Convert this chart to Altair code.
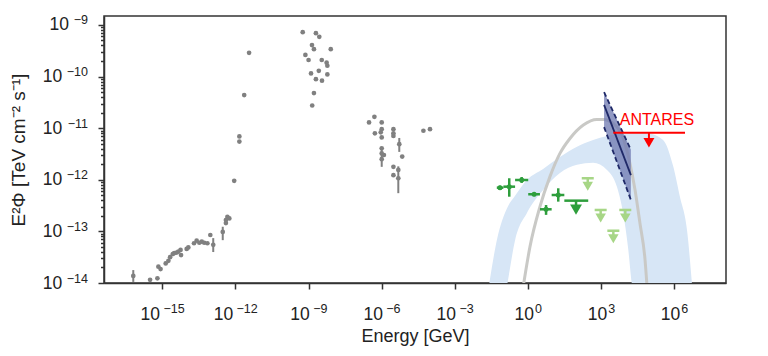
import altair as alt
import pandas as pd

# ---------------- data ----------------
# synchrotron-like grey data points
sync_E = [6.46e-17, 3.16e-16, 6.31e-16, 6.92e-16, 8.51e-16, 1.38e-15, 1.78e-15, 2.09e-15,
          2.69e-15, 3.09e-15, 3.89e-15, 4.57e-15, 5.62e-15, 5.89e-15, 1.17e-14, 1.0e-14,
          2.0e-14, 2.57e-14, 3.31e-14, 4.17e-14, 5.25e-14, 7.08e-14, 9.33e-14, 1.23e-13,
          3.02e-13, 4.07e-13, 4.68e-13, 5.62e-13, 4.07e-13, 8.91e-13, 1.45e-12, 1.45e-12,
          2.29e-12, 3.63e-12,
          5.75e-10, 2.0e-9, 2.75e-9, 1.38e-9, 1.66e-9, 8.13e-9, 7.41e-10, 1.0e-9,
          3.47e-9, 5.50e-9, 5.89e-9, 1.26e-9, 2.63e-9, 5.89e-9, 2.0e-9, 3.55e-9,
          1.66e-9, 1.41e-9,
          3.02e-7, 5.01e-7, 1.0e-6, 5.25e-7, 9.12e-7, 1.0e-6, 1.0e-6, 3.02e-6,
          3.02e-6, 3.02e-6, 5.25e-6, 6.92e-6, 1.0e-6, 1.0e-6, 1.23e-6, 1.0e-6,
          3.02e-6, 4.79e-6, 3.02e-6, 4.79e-6, 5.13e-5, 9.55e-5]
sync_F = [1.37e-14, 1.15e-14, 1.23e-14, 2.07e-14, 1.86e-14, 2.40e-14, 2.69e-14, 3.16e-14,
          3.63e-14, 3.80e-14, 3.89e-14, 4.07e-14, 4.37e-14, 3.47e-14, 4.90e-14, 4.57e-14,
          5.89e-14, 6.61e-14, 6.03e-14, 6.31e-14, 6.03e-14, 5.89e-14, 8.51e-14, 5.50e-14,
          9.77e-14, 1.66e-13, 1.91e-13, 1.78e-13, 1.45e-13, 9.55e-13, 6.92e-12, 5.50e-12,
          4.37e-11, 2.88e-10,
          7.24e-10, 6.92e-10, 5.89e-10, 4.07e-10, 3.39e-10, 3.39e-10, 2.63e-10, 2.09e-10,
          2.09e-10, 1.86e-10, 1.62e-10, 1.15e-10, 1.29e-10, 1.10e-10, 8.91e-11, 8.32e-11,
          4.79e-11, 2.75e-11,
          1.29e-11, 1.66e-11, 1.29e-11, 7.94e-12, 8.32e-12, 6.61e-12, 9.55e-12, 9.55e-12,
          7.94e-12, 7.08e-12, 4.90e-12, 2.82e-12, 4.07e-12, 3.24e-12, 3.02e-12, 2.51e-12,
          1.78e-12, 1.55e-12, 1.23e-12, 1.07e-12, 8.91e-12, 9.55e-12]
sync_err_E = [6.46e-17, 1.23e-13, 3.02e-13, 5.25e-6, 1.0e-6, 4.79e-6]
sync_err_lo = [1.05e-14, 3.98e-14, 6.76e-14, 3.47e-12, 1.78e-12, 5.50e-13]
sync_err_hi = [1.78e-14, 7.41e-14, 1.23e-13, 6.46e-12, 3.80e-12, 1.82e-12]

# dark green gamma-ray points
g_E = [7.08e-2, 0.170, 0.55, 1.78, 5.5, 17.4]
g_Elo = [5.25e-2, 9.77e-2, 0.295, 1.02, 3.09, 9.33]
g_Ehi = [9.77e-2, 0.295, 1.02, 3.09, 9.33, 30.9]
g_F = [7.03e-13, 7.35e-13, 9.9e-13, 5.24e-13, 2.68e-13, 5.07e-13]
g_Flo = [6.4e-13, 4.70e-13, 8.7e-13, 4.8e-13, 2.09e-13, 3.77e-13]
g_Fhi = [7.7e-13, 1.07e-12, 1.13e-12, 5.7e-13, 3.24e-13, 6.84e-13]
# dark green upper limit
gul_E = [93.3]
gul_Elo = [30.9]
gul_Ehi = [295.0]
gul_F = [3.94e-13]
# light green upper limits
lul_E = [282.0, 955.0, 3162.0, 9772.0]
lul_F = [1.07e-12, 2.60e-13, 1.03e-13, 2.60e-13]

# light blue band
band_E = [0.0251, 0.0537, 0.138, 0.295, 0.912, 4.17, 20.4, 102.0, 468.0, 1738.0,
          4467.0, 7943.0, 12589.0, 18621.0, 75858.0, 346737.0, 891251.0, 1.70e6, 3.31e6, 5.37e6]
band_hi = [8.91e-15, 7.08e-14, 2.82e-13, 4.90e-13, 1.0e-12, 1.62e-12, 2.75e-12, 4.37e-12, 5.89e-12, 7.08e-12,
           7.59e-12, 7.94e-12, 7.94e-12, 7.94e-12, 7.94e-12, 5.89e-12, 1.86e-12, 4.68e-13, 1.07e-13, 8.91e-15]
band_lo = [1e-15, 1e-15, 8.91e-15, 6.76e-14, 2.29e-13, 6.31e-13, 1.35e-12, 1.95e-12, 2.14e-12, 1.55e-12,
           7.24e-13, 2.29e-13, 5.01e-14, 8.91e-15, 1e-15, 1e-15, 1e-15, 1e-15, 1e-15, 1e-15]

# grey model curve
curve_E = [0.646, 1.20, 3.09, 7.94, 20.4, 52.5, 186.0, 661.0, 1230.0, 3162.0,
           8128.0, 15136.0, 24547.0, 38905.0, 63096.0, 75858.0]
curve_F = [8.91e-15, 5.01e-14, 3.02e-13, 1.15e-12, 3.24e-12, 6.31e-12, 1.15e-11, 1.48e-11, 1.48e-11, 1.23e-11,
           6.31e-12, 2.09e-12, 6.31e-13, 1.45e-13, 2.82e-14, 8.91e-15]

# navy butterfly
bf_E = [1318.0, 16596.0]
bf_hi = [5.01e-11, 3.80e-12]
bf_lo = [1.05e-11, 4.07e-13]
bf_mid = [2.82e-11, 1.23e-12]

# ANTARES upper limit
ant_Elo = [3162.0]
ant_Ehi = [2.75e6]
ant_E = [91201.0]
ant_F = [8.18e-12]
ant_label = ["ANTARES"]
ant_label_E = [1.95e5]
ant_label_F = [1.15e-11]

# axis ticks
x_tick_vals = [1e-15, 1e-12, 1e-9, 1e-6, 1e-3, 1e0, 1e3, 1e6]
x_tick_exps = [-15, -12, -9, -6, -3, 0, 3, 6]
y_major = [1e-14, 1e-13, 1e-12, 1e-11, 1e-10, 1e-9]
y_major_exps = [-14, -13, -12, -11, -10, -9]
y_minor = [m * 10.0 ** k for k in range(-14, -9) for m in range(2, 10)]


# ---------------- helpers ----------------
def exp_text(e):
    return str(e).replace("-", "\u2212")


def exp_label_expr(exps):
    expr = "''"
    for e in exps:
        expr = f"(round(log(datum.value)/LN10)=={e}) ? '{exp_text(e)}' : ({expr})"
    return expr


FONT = "Liberation Sans"
BASE_FS = 17.5
EXP_FS = 12.5

x_scale = alt.Scale(type="log", domain=[4.07e-18, 1.32e8], nice=False)
y_scale = alt.Scale(type="log", domain=[1e-14, 1.49e-9], nice=False)

# main axes: "10" part, ticks, domain, titles
x_axis = alt.Axis(values=x_tick_vals, labelExpr="'10'", title="Energy [GeV]",
                  orient="bottom", tickSize=6, labelPadding=25, labelBaseline="middle",
                  labelAlign="right", labelFontSize=BASE_FS,
                  labelOffset={"condition": [{"test": "datum.value < 1e-10", "value": -2.8},
                                             {"test": "datum.value < 0.5", "value": 0.7}],
                               "value": 5.5},
                  titleY=53, titleBaseline="middle", titleFontSize=18,
                  grid=False, labelFlush=False, labelOverlap=False)
y_axis = alt.Axis(values=y_major, labelExpr="'10'", orient="left",
                  tickSize=6, labelAlign="right", labelBaseline="middle", labelFontSize=BASE_FS,
                  labelPadding={"condition": {"test": "datum.value > 5e-10", "value": 29.5}, "value": 36.3},
                  title="E\u00b2\u03a6 [TeV cm\u207b\u00b2 s\u207b\u00b9]", titleFontSize=19,
                  titleX=-86, titleY=133.5, titleAngle=-90, titleAlign="center",
                  titleBaseline="middle", grid=False, labelFlush=False, labelOverlap=False)

# exponent axes (superscripts)
x_exp_axis = alt.Axis(values=x_tick_vals, labelExpr=exp_label_expr(x_tick_exps), title="",
                      orient="bottom", domain=False, tickSize=6, tickOpacity=0, labelPadding=19.5,
                      labelBaseline="middle", labelAlign="left", labelFontSize=EXP_FS,
                      labelOffset={"condition": [{"test": "datum.value < 1e-10", "value": 0.6},
                                                 {"test": "datum.value < 0.5", "value": 4.1}],
                                   "value": 6.5},
                      grid=False, labelFlush=False, labelOverlap=False)
y_exp_axis = alt.Axis(values=y_major, labelExpr=exp_label_expr(y_major_exps), title="",
                      orient="left", domain=False, tickSize=6, tickOpacity=0, labelPadding=10.5,
                      labelAlign="right", labelBaseline="middle", labelFontSize=EXP_FS, labelOffset=-5,
                      grid=False, labelFlush=False, labelOverlap=False)
# minor ticks on the y axis
y_minor_axis = alt.Axis(values=y_minor, labels=False, title="", orient="left", domain=False,
                        tickSize=3.5, grid=False)


def X(field):
    return alt.X(f"{field}:Q", scale=x_scale, axis=x_axis)


def Y(field):
    return alt.Y(f"{field}:Q", scale=y_scale, axis=y_axis)


# ---------------- tables ----------------
band_df = pd.DataFrame({"E": band_E, "hi": band_hi, "lo": band_lo})
curve_df = pd.DataFrame({"E": curve_E, "F": curve_F})
bf_df = pd.DataFrame({"E": bf_E, "hi": bf_hi, "lo": bf_lo, "mid": bf_mid})
sync_df = pd.DataFrame({"E": sync_E, "F": sync_F})
sync_err_df = pd.DataFrame({"E": sync_err_E, "lo": sync_err_lo, "hi": sync_err_hi})
g_df = pd.DataFrame({"E": g_E, "Elo": g_Elo, "Ehi": g_Ehi, "F": g_F, "Flo": g_Flo, "Fhi": g_Fhi})
gul_df = pd.DataFrame({"E": gul_E, "Elo": gul_Elo, "Ehi": gul_Ehi, "F": gul_F})
lul_df = pd.DataFrame({"E": lul_E, "F": lul_F})
ant_df = pd.DataFrame({"E": ant_E, "Elo": ant_Elo, "Ehi": ant_Ehi, "F": ant_F})
ant_txt_df = pd.DataFrame({"E": ant_label_E, "F": ant_label_F, "t": ant_label})
axis_df = pd.DataFrame({"E": [x_tick_vals[5]], "F": [y_major[2]]})

BLUE = "#d7e6f6"
GREY = "#808080"
CURVE = "#c9c9c6"
NAVY = "#1f2968"
DG = "#2e9e3c"
LG = "#a7d686"
RED = "#ff0000"

band = alt.Chart(band_df).mark_area(color=BLUE, clip=True, interpolate="monotone").encode(
    x=X("E"), y=Y("hi"), y2="lo")
curve = alt.Chart(curve_df).mark_line(color=CURVE, strokeWidth=3, clip=True, interpolate="monotone").encode(
    x=X("E"), y=Y("F"))
bf_area = alt.Chart(bf_df).mark_area(color="#6d78b0", opacity=0.75, clip=True).encode(
    x=X("E"), y=Y("hi"), y2="lo")
bf_hi_line = alt.Chart(bf_df).mark_line(color=NAVY, strokeWidth=1.8, strokeDash=[5, 3]).encode(
    x=X("E"), y=Y("hi"))
bf_lo_line = alt.Chart(bf_df).mark_line(color=NAVY, strokeWidth=1.8, strokeDash=[5, 3]).encode(
    x=X("E"), y=Y("lo"))
bf_mid_line = alt.Chart(bf_df).mark_line(color=NAVY, strokeWidth=1.8).encode(
    x=X("E"), y=Y("mid"))

sync_err = alt.Chart(sync_err_df).mark_rule(color=GREY, strokeWidth=2).encode(
    x=X("E"), y=Y("lo"), y2="hi")
sync = alt.Chart(sync_df).mark_circle(color=GREY, size=22, opacity=1).encode(x=X("E"), y=Y("F"))

g_h = alt.Chart(g_df).mark_rule(color=DG, strokeWidth=2.5).encode(x=X("Elo"), x2="Ehi", y=Y("F"))
g_v = alt.Chart(g_df).mark_rule(color=DG, strokeWidth=2.5).encode(x=X("E"), y=Y("Flo"), y2="Fhi")
g_pt = alt.Chart(g_df).mark_circle(color=DG, size=25, opacity=1).encode(x=X("E"), y=Y("F"))

gul_h = alt.Chart(gul_df).mark_rule(color=DG, strokeWidth=2.5).encode(x=X("Elo"), x2="Ehi", y=Y("F"))
gul_s = alt.Chart(gul_df).mark_rule(color=DG, strokeWidth=2.5, y2Offset=9).encode(x=X("E"), y=Y("F"), y2="F")
gul_t = alt.Chart(gul_df).mark_point(shape="triangle-down", filled=True, color=DG, opacity=1,
                                     size=140, yOffset=9).encode(x=X("E"), y=Y("F"))

lul_h = alt.Chart(lul_df).mark_rule(color=LG, strokeWidth=2.5, xOffset=-6, x2Offset=6).encode(
    x=X("E"), x2="E", y=Y("F"))
lul_s = alt.Chart(lul_df).mark_rule(color=LG, strokeWidth=2.5, y2Offset=6).encode(x=X("E"), y=Y("F"), y2="F")
lul_t = alt.Chart(lul_df).mark_point(shape="triangle-down", filled=True, color=LG, opacity=1,
                                     size=110, yOffset=8).encode(x=X("E"), y=Y("F"))

ant_h = alt.Chart(ant_df).mark_rule(color=RED, strokeWidth=2).encode(x=X("Elo"), x2="Ehi", y=Y("F"))
ant_s = alt.Chart(ant_df).mark_rule(color=RED, strokeWidth=2, y2Offset=8).encode(x=X("E"), y=Y("F"), y2="F")
ant_t = alt.Chart(ant_df).mark_point(shape="triangle-down", filled=True, color=RED, opacity=1,
                                     size=120, yOffset=10).encode(x=X("E"), y=Y("F"))
ant_txt = alt.Chart(ant_txt_df).mark_text(color=RED, font=FONT, fontSize=16, align="center",
                                          baseline="alphabetic").encode(x=X("E"), y=Y("F"), text="t:N")

data_layer = alt.layer(
    band, curve, bf_area, bf_hi_line, bf_lo_line, bf_mid_line,
    sync_err, sync, g_h, g_v, g_pt, gul_h, gul_s, gul_t, lul_h, lul_s, lul_t,
    ant_h, ant_s, ant_t, ant_txt
)

exp_layer = alt.Chart(axis_df).mark_point(opacity=0).encode(
    x=alt.X("E:Q", scale=x_scale, axis=x_exp_axis),
    y=alt.Y("F:Q", scale=y_scale, axis=y_exp_axis))
minor_layer = alt.Chart(axis_df).mark_point(opacity=0).encode(
    x=alt.X("E:Q", scale=x_scale, axis=None),
    y=alt.Y("F:Q", scale=y_scale, axis=y_minor_axis))

chart = alt.layer(data_layer, exp_layer, minor_layer).resolve_axis(
    x="independent", y="independent"
).properties(
    width=622, height=267,
    autosize=alt.AutoSizeParams(type="none"),
    padding={"left": 104, "top": 16, "right": 42, "bottom": 73},
    background="white",
).configure_view(
    stroke="#333333", strokeWidth=1.5
).configure_axis(
    domainColor="#333333", domainWidth=1.5, tickColor="#333333", tickWidth=1.5,
    labelFont=FONT, labelColor="#222222",
    titleFont=FONT, titleColor="#222222", titleFontWeight="normal",
)

chart.save("out.html", embed_options={"renderer": "svg", "actions": False})
